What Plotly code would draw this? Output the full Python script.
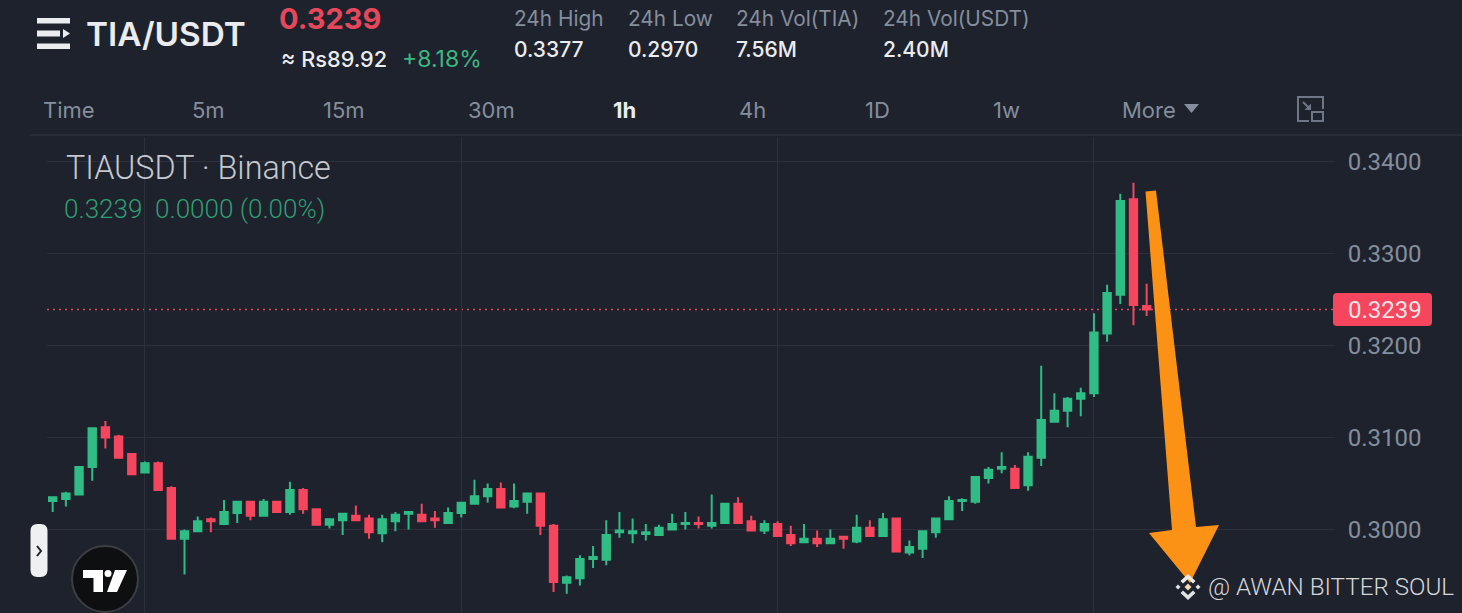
import plotly.graph_objects as go

# hourly candles
opens = [.3031, .3033, .3038, .3068, .3111, .3101, .3082, .3062, .3072, .3045, .2990, .2998,
         .3011, .3006, .3018, .3030, .3015, .3030, .3019, .3043, .3022, .3005, .3010, .3015,
         .3012, .2996, .3009, .3017, .3016, .3012, .3007, .3018, .3028, .3036, .3044, .3025,
         .3030, .3039, .3004, .2942, .2947, .2968, .2967, .2997, .2996, .2995, .2994, .3000,
         .3006, .3007, .3004, .3007, .3028, .3009, .2999, .3006, .2994, .2986, .2990, .2985,
         .2992, .2987, .3002, .2993, .3012, .2975, .2979, .2997, .3011, .3031, .3030, .3056,
         .3066, .3066, .3048, .3078, .3117, .3129, .3142, .3148, .3213, .3255, .3359, .3243]
highs = [.3036, .3041, .3069, .3111, .3118, .3103, .3082, .3074, .3074, .3047, .3000, .3014,
         .3013, .3032, .3031, .3030, .3033, .3031, .3052, .3045, .3022, .3011, .3017, .3026,
         .3016, .3016, .3019, .3019, .3028, .3020, .3024, .3030, .3054, .3050, .3051, .3050,
         .3040, .3040, .3006, .2950, .2972, .2982, .3010, .3019, .3012, .3006, .3005, .3017,
         .3019, .3014, .3038, .3028, .3035, .3015, .3010, .3009, .3004, .3006, .2999, .3000,
         .2992, .3016, .3010, .3018, .3012, .2988, .2998, .3012, .3036, .3034, .3057, .3068,
         .3084, .3070, .3084, .3178, .3148, .3144, .3154, .3235, .3266, .3365, .3377, .3267]
lows = [.3019, .3025, .3037, .3053, .3088, .3078, .3060, .3061, .3043, .2990, .2951, .2998,
        .2997, .3006, .3007, .3010, .3015, .3019, .3016, .3017, .3005, .3001, .2994, .3010,
        .2990, .2986, .2998, .3000, .3009, .3002, .3007, .3013, .3027, .3029, .3024, .3023,
        .3017, .2994, .2932, .2930, .2939, .2958, .2961, .2991, .2985, .2988, .2993, .3000,
        .3000, .3001, .3001, .3007, .3007, .2999, .2995, .2993, .2982, .2986, .2981, .2985,
        .2979, .2985, .2993, .2992, .2976, .2972, .2969, .2991, .3011, .3020, .3028, .3050,
        .3061, .3044, .3042, .3069, .3117, .3111, .3123, .3144, .3204, .3245, .3222, .3232]
closes = [.3035, .3039, .3068, .3110, .3100, .3078, .3060, .3072, .3043, .2990, .2998, .3009,
          .3009, .3019, .3030, .3015, .3030, .3019, .3043, .3022, .3005, .3011, .3017, .3010,
          .2997, .3011, .3016, .3019, .3009, .3010, .3018, .3029, .3036, .3044, .3024, .3031,
          .3039, .3004, .2943, .2948, .2968, .2970, .2994, .2999, .2998, .2997, .3002, .3006,
          .3007, .3006, .3007, .3028, .3007, .2999, .3006, .2993, .2985, .2990, .2985, .2990,
          .2990, .3002, .2993, .3011, .2976, .2981, .2998, .3012, .3031, .3032, .3057, .3065,
          .3068, .3045, .3079, .3119, .3129, .3142, .3148, .3214, .3257, .3357, .3244, .3239]
candle_index = list(range(len(opens)))

price_ticks = [0.30, 0.31, 0.32, 0.33, 0.34]
price_labels = ["0.3000", "0.3100", "0.3200", "0.3300", "0.3400"]
day_ticks = [7, 31, 55, 79]
last_price = 0.3239

tabs = ["Time", "5m", "15m", "30m", "1h", "4h", "1D", "1w", "More"]
tab_x = [43, 192, 323, 468, 613, 739, 865, 993, 1122]
stat_names = ["24h High", "24h Low", "24h Vol(TIA)", "24h Vol(USDT)"]
stat_values = ["0.3377", "0.2970", "7.56M", "2.40M"]
stat_x = [514, 628, 736, 884]

BG = "#1e222d"
GRID = "#2c303b"
GREEN = "#2fbd85"
RED = "#f6465d"
ORANGE = "#fb9216"
GREY = "#848e9c"
ICON = "#6f7787"
WHITE = "#eaecef"

# plot area in page pixels
LEFT, RIGHT, TOP, BOTTOM = 47, 1335, 137, 613


def px(x):
    return (x - LEFT) / (RIGHT - LEFT)


def py(y):
    return (BOTTOM - y) / (BOTTOM - TOP)


def label(text, x, y, size, color, font="Inter", anchor="left", weight=400):
    # annotations sit about 1.5px right of the anchor
    fig.add_annotation(text=text, xref="paper", yref="paper", x=px(x - 1.5), y=py(y), xanchor=anchor,
                       yanchor="middle", showarrow=False, borderpad=0,
                       font=dict(family=font, size=size, color=color, weight=weight))


def poly(points, fill, line=None, width=0):
    path = "M " + " L ".join(f"{px(a)} {py(b)}" for a, b in points) + " Z"
    fig.add_shape(type="path", path=path, xref="paper", yref="paper", fillcolor=fill,
                  line=dict(color=line or fill, width=width), layer="above")


def stroke(points, color, width=2):
    path = "M " + " L ".join(f"{px(a)} {py(b)}" for a, b in points)
    fig.add_shape(type="path", path=path, xref="paper", yref="paper",
                  line=dict(color=color, width=width), layer="above")


def round_rect(x0, y0, x1, y1, r, fill):
    path = (f"M {px(x0 + r)} {py(y0)} L {px(x1 - r)} {py(y0)} Q {px(x1)} {py(y0)} {px(x1)} {py(y0 + r)} "
            f"L {px(x1)} {py(y1 - r)} Q {px(x1)} {py(y1)} {px(x1 - r)} {py(y1)} "
            f"L {px(x0 + r)} {py(y1)} Q {px(x0)} {py(y1)} {px(x0)} {py(y1 - r)} "
            f"L {px(x0)} {py(y0 + r)} Q {px(x0)} {py(y0)} {px(x0 + r)} {py(y0)} Z")
    fig.add_shape(type="path", path=path, xref="paper", yref="paper", fillcolor=fill,
                  line=dict(width=0), layer="above")


fig = go.Figure()
fig.add_trace(go.Candlestick(
    x=candle_index, open=opens, high=highs, low=lows, close=closes,
    increasing=dict(line=dict(color=GREEN, width=2), fillcolor=GREEN),
    decreasing=dict(line=dict(color=RED, width=2), fillcolor=RED),
    whiskerwidth=0, showlegend=False, hoverinfo="skip",
))
fig.add_shape(type="line", xref="paper", yref="y", x0=0, x1=1, y0=last_price, y1=last_price,
              line=dict(color="#e0475c", width=1.5, dash="2px,4px"), layer="between")

fig.update_layout(
    width=1462, height=613, autosize=False, showlegend=False,
    paper_bgcolor=BG, plot_bgcolor=BG,
    margin=dict(l=LEFT, r=1462 - RIGHT, t=TOP, b=0),
    boxgap=0.2,
    xaxis=dict(range=[-0.432, 97.29], tickvals=day_ticks, showticklabels=False, ticks="",
               showgrid=True, gridcolor=GRID, gridwidth=1, zeroline=False,
               rangeslider=dict(visible=False)),
    yaxis=dict(range=[0.29092, 0.34266], side="right", tickvals=price_ticks, ticktext=price_labels,
               showgrid=True, gridcolor=GRID, gridwidth=1, zeroline=False,
               ticks="outside", ticklen=7, tickcolor=BG,
               tickfont=dict(family="Roboto", size=24, color=GREY)),
)

# header
poly([(37, 18), (70, 18), (70, 23.5), (37, 23.5)], WHITE)
poly([(37, 30.5), (60, 30.5), (60, 36.5), (37, 36.5)], WHITE)
poly([(63, 29), (70, 33.5), (63, 38)], WHITE)
poly([(37, 43.5), (70, 43.5), (70, 49), (37, 49)], WHITE)
label("TIA/USDT", 86, 34, 33.3, WHITE, weight=600)
label("0.3239", 279, 18, 29, "#e5475b", weight=700)
label("≈ Rs89.92", 281, 59, 21.7, WHITE, weight=500)
label("+8.18%", 402, 59, 23, "#3cb880")
for name, value, x in zip(stat_names, stat_values, stat_x):
    label(name, x, 18, 20.8, GREY)
    label(value, x, 50, 21, WHITE, weight=500)
for tab, x in zip(tabs, tab_x):
    active = tab == "1h"
    label(tab, x, 110, 22, WHITE if active else GREY, weight=700 if active else 400)
poly([(1184, 104), (1199, 104), (1191.5, 113)], GREY)
fig.add_shape(type="line", xref="paper", yref="paper", x0=px(30), x1=px(1462), y0=py(135), y1=py(135),
              line=dict(color=GRID, width=1.5))

# expand icon
stroke([(1323, 109), (1323, 97), (1298, 97), (1298, 121), (1309, 121)], ICON)
fig.add_shape(type="rect", xref="paper", yref="paper", x0=px(1312), x1=px(1323), y0=py(112), y1=py(121),
              line=dict(color=ICON, width=2), layer="above")
stroke([(1303, 102), (1309, 108)], ICON)
poly([(1311, 110), (1311, 103.5), (1304.5, 110)], ICON)

# chart legend
label("TIAUSDT · Binance", 66, 168, 32.3, "#c5c8ce", font="Roboto", weight=300)
label("0.3239", 64, 209, 26, "#2e9e72", font="Roboto", weight=300)
label("0.0000 (0.00%)", 155, 209, 26, "#2e9e72", font="Roboto", weight=300)

# last price tag
round_rect(1333, 293, 1432, 326, 4, RED)
label("0.3239", 1348, 310, 24, "#fbe3e6", font="Roboto")

# orange arrow drawn on the screenshot
poly([(1145.5, 191.5), (1156, 190.5), (1196, 527), (1219, 525), (1190, 583), (1149, 533), (1172, 530)], ORANGE)

# binance mark and watermark
poly([(1188, 583.5), (1191.5, 587), (1188, 590.5), (1184.5, 587)], "#f3d9b5")
poly([(1178, 584.5), (1180.5, 587), (1178, 589.5), (1175.5, 587)], "#dfe1e5")
poly([(1198, 584.5), (1200.5, 587), (1198, 589.5), (1195.5, 587)], "#dfe1e5")
poly([(1188, 574), (1195.5, 581), (1193, 583.5), (1188, 579), (1183, 583.5), (1180.5, 581)], "#e9e9e6")
poly([(1188, 600), (1195.5, 593), (1193, 590.5), (1188, 595), (1183, 590.5), (1180.5, 593)], "#dfe1e5")
label("@ AWAN BITTER SOUL", 1208, 587, 24.2, "#d5d7db", font="Roboto", weight=300)

# side handle
round_rect(30.5, 524, 47.5, 577, 7, "#eff0f2")
stroke([(37, 546), (41, 551), (37, 556)], "#222", 2)

# tradingview badge
fig.add_shape(type="circle", xref="paper", yref="paper", x0=px(72), x1=px(138), y0=py(546), y1=py(612),
              fillcolor="#0e0f11", line=dict(color="#3c3e44", width=2), layer="above")
poly([(83, 570), (103, 570), (103, 592), (93.5, 592), (93.5, 578), (83, 578)], "#ffffff")
poly([(115, 570), (127, 570), (117, 592), (107, 592)], "#ffffff")
fig.add_shape(type="circle", xref="paper", yref="paper", x0=px(104.5), x1=px(111.5), y0=py(570), y1=py(577),
              fillcolor="#ffffff", line=dict(width=0), layer="above")

# the page's default body margin would push the figure 8px off
fig.write_html("out.html", config=dict(displayModeBar=False), post_script="document.body.style.margin = '0';")
